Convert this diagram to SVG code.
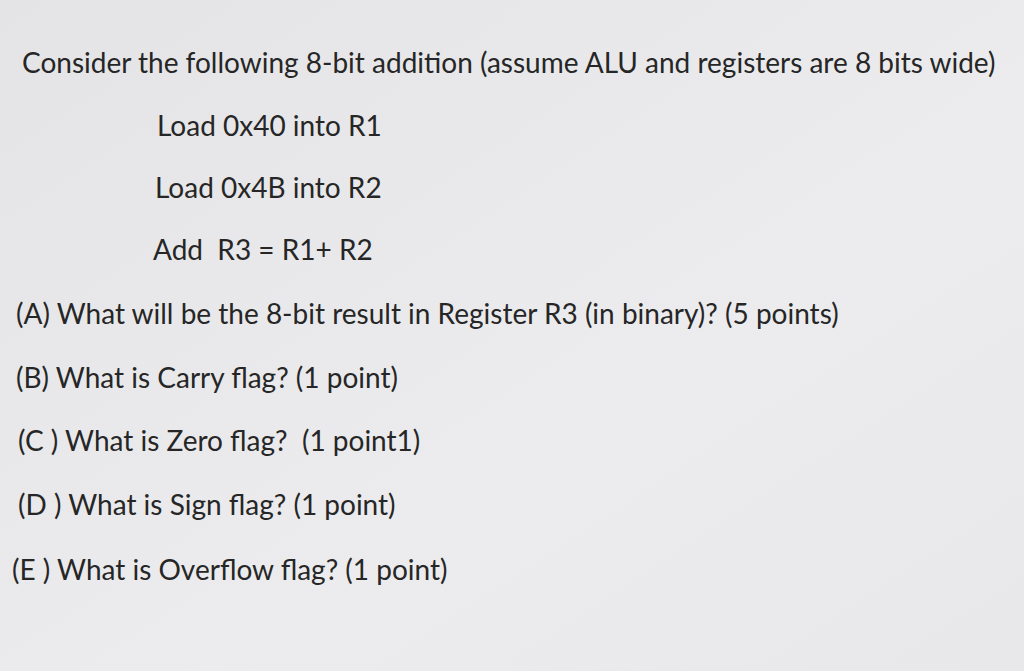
<svg xmlns="http://www.w3.org/2000/svg" width="1024" height="671" viewBox="0 0 1024 671">
<defs>
<linearGradient id="bg" x1="0" y1="0" x2="1" y2="1">
<stop offset="0" stop-color="#e4e4e6"/>
<stop offset="0.6" stop-color="#ececee"/>
<stop offset="1" stop-color="#e8e8ea"/>
</linearGradient>
</defs>
<style>text{font-family:Lato,"Noto Sans",sans-serif;font-size:28px;fill:#262626}</style>
<rect width="1024" height="671" fill="url(#bg)"/>
<text x="22" y="73">Consider the following 8-bit addition (assume ALU and registers are 8 bits wide)</text>
<text x="157" y="136">Load 0x40 into R1</text>
<text x="155" y="198">Load 0x4B into R2</text>
<text x="153" y="260">Add &#160;R3 = R1+ R2</text>
<text x="16" y="324">(A) What will be the 8-bit result in Register R3 (in binary)? (5 points)</text>
<text x="16" y="388">(B) What is Carry flag? (1 point)</text>
<text x="18" y="451">(C ) What is Zero flag? &#160;(1 point1)</text>
<text x="18" y="515">(D ) What is Sign flag? (1 point)</text>
<text x="12" y="580">(E ) What is Overflow flag? (1 point)</text>
</svg>
